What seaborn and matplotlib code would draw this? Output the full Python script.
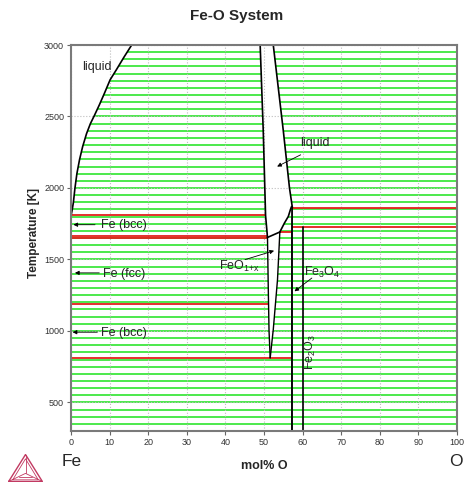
import matplotlib
matplotlib.use('Agg')
import matplotlib.pyplot as plt
import seaborn as sns

# tie-line temperatures [K] (green)
tie_T = [300, 350, 400, 450, 500, 550, 600, 650, 700, 750,
         800, 850, 900, 950, 1000, 1050, 1100, 1150, 1200, 1250,
         1300, 1350, 1400, 1450, 1500, 1550, 1600, 1650, 1700, 1750,
         1800, 1850, 1900, 1950, 2000, 2050, 2100, 2150, 2200, 2250,
         2300, 2350, 2400, 2450, 2500, 2550, 2600, 2650, 2700, 2750,
         2800, 2850, 2900, 2950]

# invariant lines (red): temperature, from x, to x
red_T = [1808, 1667, 1650, 1190, 812, 1692, 1862, 1724]
red_x0 = [0, 0, 0, 0, 0, 54.1, 57.3, 57.3]
red_x1 = [50.4, 50.9, 50.9, 51.2, 57.1, 57.1, 100, 100]

# phase boundaries (mol% O, K)
fe_liq_x = [0, 0.3, 0.6, 1.0, 1.5, 2.2, 3.0, 4.0, 5.0, 6.0, 7.3, 8.6, 10.1, 11.8, 13.7, 15.7]
fe_liq_T = [1808, 1850, 1900, 2000, 2100, 2200, 2290, 2380, 2450, 2505, 2580, 2660, 2756, 2830, 2915, 3000]

liqL_x = [49.0, 49.8, 50.4, 50.9]
liqL_T = [3000, 2400, 1808, 1654]
wus_top_x = [50.9, 54.1]
wus_top_T = [1654, 1692]
f3liq_x = [54.1, 55.3, 56.3, 56.8, 57.1]
f3liq_T = [1692, 1755, 1801, 1845, 1868]
liqR_x = [57.35, 56.6, 55.0, 52.4]
liqR_T = [1863, 2000, 2400, 3000]

wusL_x = [50.9, 51.1, 51.3, 51.6]
wusL_T = [1654, 1300, 1000, 812]
wusR_x = [51.6, 52.4, 53.5, 54.1]
wusR_T = [812, 1010, 1360, 1692]

mag_L_x = [57.15, 57.15, 57.2]
mag_L_T = [300, 1692, 1872]
mag_R_x = [57.2, 57.35, 57.35]
mag_R_T = [1872, 1862, 300]

hem_x = [60, 60]
hem_T = [300, 1724]

# logo shape
logo_outer_x = [0, 1, 0.5, 0]
logo_outer_y = [0, 0, 1, 0]
logo_inner_x = [0.12, 0.88, 0.5, 0.12]
logo_inner_y = [0.06, 0.06, 0.84, 0.06]
logo_c = (0.5, 0.3)

sns.set_theme(style='white')
plt.rcParams['font.family'] = ['Liberation Sans', 'DejaVu Sans']
plt.rcParams['mathtext.default'] = 'regular'

fig = plt.figure(figsize=(4.74, 4.92), dpi=100)
ax = fig.add_axes([0.150, 0.124, 0.814, 0.7845])

green = '#2ee52e'
red = '#e3201b'

ax.hlines(tie_T, 0, 100, color=green, lw=1.2, zorder=1)

# single-phase regions are blank
ax.fill([0] + fe_liq_x + [0], [1808] + fe_liq_T + [3000], color='white', lw=0, zorder=1.2)
ax.fill(liqL_x + wus_top_x + f3liq_x + liqR_x,
        liqL_T + wus_top_T + f3liq_T + liqR_T, color='white', lw=0, zorder=1.2)
ax.fill(wusL_x + wusR_x, wusL_T + wusR_T, color='white', lw=0, zorder=1.2)
ax.fill(mag_L_x + mag_R_x, mag_L_T + mag_R_T, color='white', lw=0, zorder=1.2)

ax.hlines(red_T, red_x0, red_x1, color=red, lw=1.3, zorder=2.5)

for bx, bt, w in [(fe_liq_x, fe_liq_T, 1.2), (liqL_x, liqL_T, 1.2),
                  (wus_top_x, wus_top_T, 1.2), (f3liq_x, f3liq_T, 1.2),
                  (liqR_x, liqR_T, 1.2), (wusL_x, wusL_T, 1.0),
                  (wusR_x, wusR_T, 1.0), (mag_L_x, mag_L_T, 0.8),
                  (mag_R_x, mag_R_T, 0.8), (hem_x, hem_T, 1.2)]:
    sns.lineplot(x=bx, y=bt, sort=False, estimator=None, color='black',
                 lw=w, ax=ax, zorder=3)

ax.set_xlim(0, 100)
ax.set_ylim(300, 3000)
ax.set_xticks(range(0, 101, 10))
ax.set_yticks([500, 1000, 1500, 2000, 2500, 3000])
ax.set_axisbelow('line')
ax.grid(True, color='#bdbdbd', ls=':', lw=0.8)
ax.tick_params(bottom=True, left=True, direction='out', length=3, width=0.8,
               color='#666666', labelsize=6.5, labelcolor='#333333', pad=2)
for s in ax.spines.values():
    s.set_color('#7a7a7a')
    s.set_linewidth(1.5)
    s.set_zorder(4)

arrow = dict(arrowstyle='-|>', lw=0.6, color='black', mutation_scale=6,
             shrinkA=0, shrinkB=0)


def label(txt, x, y, tail, tip, **kw):
    ax.text(x, y, txt, ha='center', va='center', fontsize=9, zorder=5, **kw)
    ax.annotate('', xy=tip, xytext=tail, arrowprops=arrow, zorder=5)


ax.text(6.7, 2846, 'liquid', ha='center', va='center', fontsize=9, zorder=5)
label('liquid', 63.2, 2316, (59.5, 2232), (53.4, 2150))
label('Fe (bcc)', 13.6, 1738, (6.2, 1743), (0.6, 1743))
label('Fe (fcc)', 13.8, 1401, (7.3, 1406), (1.0, 1406))
label('Fe (bcc)', 13.7, 982, (6.8, 991), (0.4, 991))
label('FeO$_{1{+}x}$', 43.5, 1450, (45.1, 1499), (52.6, 1561))
label('Fe$_3$O$_4$', 65.0, 1410, (62.4, 1370), (57.9, 1277))
ax.text(62.1, 856, 'Fe$_2$O$_3$', rotation=90, ha='center', va='center',
        fontsize=9, zorder=5)

fig.text(0.5, 1 - 16 / 492, 'Fe-O System', ha='center', va='center',
         fontsize=11, fontweight='bold')
fig.text(34 / 474, 1 - 233 / 492, 'Temperature [K]', rotation=90,
         ha='center', va='center', fontsize=8.5, fontweight='bold')
fig.text(264 / 474, 1 - 466 / 492, 'mol% O', ha='center', va='center',
         fontsize=9, fontweight='bold')
fig.text(72 / 474, 1 - 462 / 492, 'Fe', ha='center', va='center', fontsize=12.5)
fig.text(456 / 474, 1 - 462 / 492, 'O', ha='center', va='center', fontsize=12.5)

lg = fig.add_axes([8 / 474, 10 / 492, 35 / 474, 28 / 492])
lg.set_xlim(-0.02, 1.02)
lg.set_ylim(-0.02, 1.02)
lg.axis('off')
lc = '#c23a62'
lg.plot(logo_outer_x, logo_outer_y, color=lc, lw=1.0)
lg.plot(logo_inner_x, logo_inner_y, color=lc, lw=0.6)
for vx, vy in zip(logo_outer_x[:3], logo_outer_y[:3]):
    lg.plot([vx, logo_c[0]], [vy, logo_c[1]], color=lc, lw=0.6)
lg.plot([0.3, 0.7], [0.18, 0.18], color=lc, lw=0.6)

fig.savefig('out.png', dpi=100)
